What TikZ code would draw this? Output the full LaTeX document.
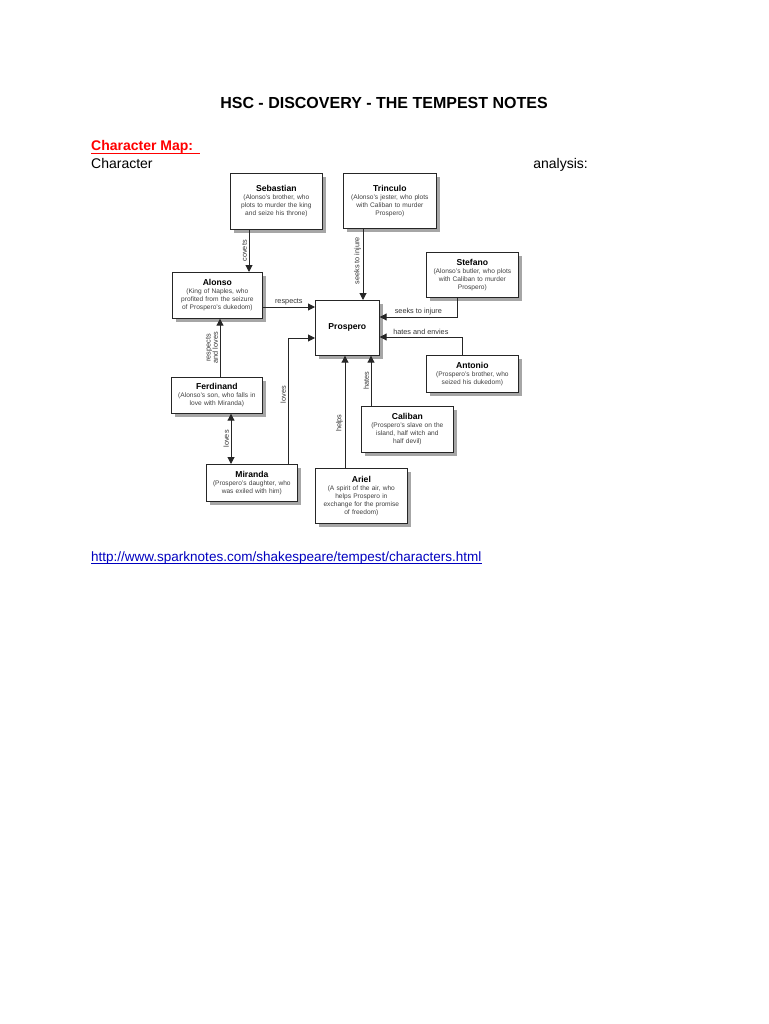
\documentclass[tikz,border=0pt]{standalone}
\usepackage{fontspec}
\setmainfont{Liberation Sans}
\usetikzlibrary{arrows.meta,shadows}
\begin{document}
\begin{tikzpicture}[x=1pt,y=-1pt,
  cbox/.style={draw=black!85,line width=0.7pt,fill=white,anchor=north west,inner sep=0pt,
    align=center,font=\fontsize{6.6}{8}\selectfont\color{black!75},
    drop shadow={shadow xshift=4pt,shadow yshift=-4pt,fill=black!35,opacity=1}},
  arr/.style={-{Triangle[length=7pt,width=7pt]},line width=1pt,black!85},
  lab/.style={font=\fontsize{7.3}{8}\selectfont,text=black!80,inner sep=1.5pt}]
\useasboundingbox (0,0) rectangle (768,1024);
\newcommand{\cb}[6]{\node[cbox,minimum width=#4pt,minimum height=#5pt,text width=#4pt] (#1) at (#2,#3) {#6};}
\newcommand{\ttl}[1]{{\bfseries\fontsize{8.6}{10}\selectfont\color{black}#1}}
\cb{seb}{230}{173}{92}{56}{\ttl{Sebastian}\\(Alonso's brother, who\\plots to murder the king\\and seize his throne)}
\cb{tri}{343}{173}{93}{55}{\ttl{Trinculo}\\(Alonso's jester, who plots\\with Caliban to murder\\Prospero)}
\cb{ste}{426}{252}{92}{45}{\ttl{Stefano}\\(Alonso's butler, who plots\\with Caliban to murder\\Prospero)}
\cb{alo}{172}{272}{90}{46}{\ttl{Alonso}\\(King of Naples, who\\profited from the seizure\\of Prospero's dukedom)}
\cb{pro}{315}{300}{64}{55}{\ttl{Prospero}}
\cb{ant}{426}{355}{92}{37}{\ttl{Antonio}\\(Prospero's brother, who\\seized his dukedom)}
\cb{fer}{171}{377}{91}{36}{\ttl{Ferdinand}\\(Alonso's son, who falls in\\love with Miranda)}
\cb{cal}{361}{406}{92}{46}{\ttl{Caliban}\\(Prospero's slave on the\\island, half witch and\\half devil)}
\cb{mir}{206}{464}{91}{37}{\ttl{Miranda}\\(Prospero's daughter, who\\was exiled with him)}
\cb{ari}{315}{468}{92}{55}{\ttl{Ariel}\\(A spirit of the air, who\\helps Prospero in\\exchange for the promise\\of freedom)}
% arrows
\draw[arr] (seb.south west -| 249,0) -- node[lab,rotate=90,above]{covets} (alo.north west -| 249,0);
\draw[arr] (tri.south west -| 363,0) -- node[lab,rotate=90,above,pos=0.45]{seeks to injure} (pro.north west -| 363,0);
\draw[arr] (alo.north east |- 0,307) -- node[lab,above]{respects} (pro.north west |- 0,307);
\coordinate (s1) at (457,317);
\draw[arr] (ste.south west -| 457,0) -- (s1) -- node[lab,above]{seeks to injure} (pro.north east |- s1);
\coordinate (a1) at (462,337);
\draw[arr] (ant.north west -| 462,0) -- (a1) -- node[lab,above]{hates and envies} (pro.north east |- a1);
\draw[arr] (fer.north west -| 220,0) -- node[lab,rotate=90,above,align=center,font=\fontsize{7.3}{7.3}\selectfont]{respects\\and loves} (alo.south west -| 220,0);
\draw[arr,{Triangle[length=7pt,width=7pt]}-{Triangle[length=7pt,width=7pt]}] (fer.south west -| 231,0) -- node[lab,rotate=90,above]{loves} (mir.north west -| 231,0);
\coordinate (m1) at (288,338);
\draw[arr] (mir.north west -| 288,0) -- node[lab,rotate=90,above,pos=0.55]{loves} (m1) -- (pro.north west |- m1);
\draw[arr] (ari.north west -| 345,0) -- node[lab,rotate=90,above,pos=0.4]{helps} (pro.south west -| 345,0);
\draw[arr] (cal.north west -| 371,0) -- node[lab,rotate=90,above]{hates} (pro.south west -| 371,0);
% texts
\node[font=\bfseries\fontsize{16}{18}\selectfont] (title) at (384,103) {HSC - DISCOVERY - THE TEMPEST NOTES};
\node[anchor=base west,inner sep=0pt,font=\bfseries\fontsize{14}{16}\selectfont,text=red] (cm) at (91,151) {Character Map:};
\draw[red,line width=0.8pt] (cm.base west) ++(0,2) -- ++(109,0);
\node[anchor=base west,inner sep=0pt,font=\fontsize{14}{16}\selectfont] (ch) at (91,169) {Character};
\node[anchor=base east,inner sep=0pt,font=\fontsize{14}{16}\selectfont] (an) at (588,169) {analysis:};
\node[anchor=base west,inner sep=0pt,font=\fontsize{13.5}{16}\selectfont,text=blue!75!black] (link) at (91,561) {http://www.sparknotes.com/shakespeare/tempest/characters.html};
\draw[blue!75!black,line width=0.7pt] (link.base west) ++(0,2) -- (link.base east |- 0,563);
\end{tikzpicture}
\end{document}
